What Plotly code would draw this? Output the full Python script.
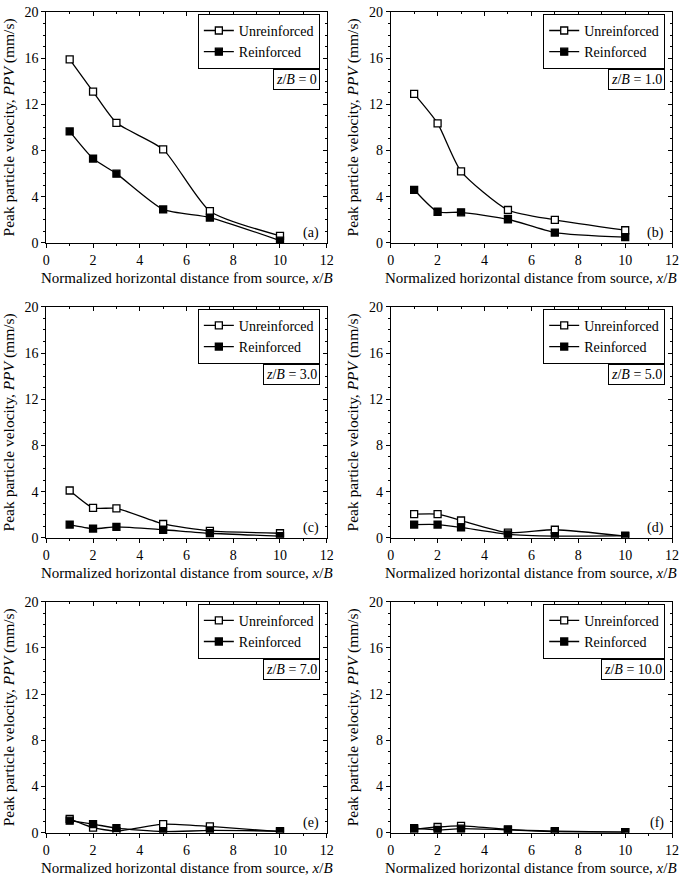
import plotly.graph_objects as go

x_vals = [1, 2, 3, 5, 7, 10]
unreinforced = {
    "a": [15.9, 13.1, 10.4, 8.1, 2.75, 0.62],
    "b": [12.9, 10.35, 6.2, 2.85, 2.0, 1.1],
    "c": [4.1, 2.6, 2.55, 1.2, 0.6, 0.4],
    "d": [2.05, 2.05, 1.5, 0.45, 0.7, 0.15],
    "e": [1.2, 0.45, 0.15, 0.75, 0.55, 0.1],
    "f": [0.3, 0.5, 0.6, 0.3, 0.15, 0.05],
}
reinforced = {
    "a": [9.65, 7.3, 6.0, 2.9, 2.2, 0.2],
    "b": [4.6, 2.7, 2.65, 2.05, 0.9, 0.5],
    "c": [1.15, 0.8, 0.95, 0.7, 0.4, 0.15],
    "d": [1.15, 1.15, 0.9, 0.3, 0.15, 0.2],
    "e": [1.05, 0.75, 0.4, 0.1, 0.2, 0.15],
    "f": [0.4, 0.25, 0.35, 0.25, 0.1, 0.05],
}
panels = ["a", "b", "c", "d", "e", "f"]
zb_labels = ["0", "1.0", "3.0", "5.0", "7.0", "10.0"]
x_ticks = [0, 2, 4, 6, 8, 10, 12]
y_ticks = [0, 4, 8, 12, 16, 20]
x_title = "Normalized horizontal distance from source, <i>x</i>/<i>B</i>"
y_title = "Peak particle velocity, <i>PPV</i> (mm/s)"

W, H = 685, 885
col_px = [(43, 328), (393, 679)]
row_px = [(5, 240), (305, 540), (605, 840)]

FONT = "Liberation Serif"
fig = go.Figure()
layout = dict(
    width=W, height=H, margin=dict(l=0, r=0, t=0, b=0),
    plot_bgcolor="white", paper_bgcolor="white",
    font=dict(family=FONT, size=14, color="black"),
    annotations=[],
)

for i, p in enumerate(panels):
    r, c = divmod(i, 2)
    x0, x1 = col_px[c]
    y0, y1 = row_px[r]
    xd = [x0 / W, x1 / W]
    yd = [1 - y1 / H, 1 - y0 / H]
    n = i * 2 + 1
    xa, ya = f"x{n}", f"y{n}"
    xa2, ya2 = f"x{n+1}", f"y{n+1}"
    lg = "legend" if i == 0 else f"legend{i+1}"
    common = dict(showgrid=False, zeroline=False, linecolor="black", linewidth=1,
                  tickcolor="black", tickwidth=1)
    layout[f"xaxis{n}"] = dict(domain=xd, anchor=ya, range=[0, 12], tickvals=x_ticks,
                               ticks="outside", ticklen=4,
                               minor=dict(dtick=1, tick0=0, ticks="outside", ticklen=2, tickcolor="black"),
                               tickfont=dict(size=14), **common)
    layout[f"yaxis{n}"] = dict(domain=yd, anchor=xa, range=[0, 20], tickvals=y_ticks,
                               ticks="outside", ticklen=4,
                               minor=dict(dtick=1, tick0=0, ticks="outside", ticklen=2, tickcolor="black"),
                               title=dict(text=y_title, font=dict(size=15.5), standoff=6),
                               tickfont=dict(size=14), **common)
    layout[f"xaxis{n+1}"] = dict(overlaying=xa, side="top", anchor=ya2, range=[0, 12], tickvals=x_ticks,
                                 ticks="inside", ticklen=4, showticklabels=False,
                                 minor=dict(dtick=1, tick0=0, ticks="inside", ticklen=2, tickcolor="black"),
                                 **common)
    layout[f"yaxis{n+1}"] = dict(overlaying=ya, side="right", anchor=xa2, range=[0, 20], tickvals=y_ticks,
                                 ticks="inside", ticklen=4, showticklabels=False,
                                 minor=dict(dtick=1, tick0=0, ticks="inside", ticklen=2, tickcolor="black"),
                                 **common)
    fig.add_trace(go.Scatter(x=x_vals, y=unreinforced[p], mode="lines+markers", name="Unreinforced",
                             line=dict(color="black", width=1.3, shape="spline", smoothing=0.6),
                             marker=dict(symbol="square", size=7, color="white",
                                         line=dict(color="black", width=1.3)),
                             xaxis=xa, yaxis=ya, legend=lg))
    fig.add_trace(go.Scatter(x=x_vals, y=reinforced[p], mode="lines+markers", name="Reinforced",
                             line=dict(color="black", width=1.3, shape="spline", smoothing=0.6),
                             marker=dict(symbol="square", size=7, color="black",
                                         line=dict(color="black", width=1.3)),
                             xaxis=xa, yaxis=ya, legend=lg))
    fig.add_trace(go.Scatter(x=x_vals, y=unreinforced[p], mode="lines", opacity=0, showlegend=False,
                             hoverinfo="skip", xaxis=xa2, yaxis=ya2))
    layout[lg] = dict(x=(x1 - 7) / W, xanchor="right", y=1 - (y0 + 2) / H, yanchor="top",
                      bordercolor="black", borderwidth=1, bgcolor="white",
                      font=dict(family=FONT, size=14), tracegroupgap=0,
                      itemwidth=30)
    layout["annotations"].append(dict(
        text=f"<i>z</i>/<i>B</i> = {zb_labels[i]}", xref="paper", yref="paper",
        x=(x1 - 7) / W, xanchor="right", y=1 - (y0 + 58) / H, yanchor="top",
        showarrow=False, bordercolor="black", borderwidth=1, borderpad=2, bgcolor="white",
        font=dict(family=FONT, size=14)))
    layout["annotations"].append(dict(
        text=f"({p})", xref="paper", yref="paper",
        x=(x1 - 6) / W, xanchor="right", y=1 - (y1 - 10) / H, yanchor="middle",
        showarrow=False, font=dict(family=FONT, size=14)))
    layout["annotations"].append(dict(
        text=x_title, xref="paper", yref="paper",
        x=(x0 + x1) / 2 / W, xanchor="center", y=1 - (y1 + 36) / H, yanchor="middle",
        showarrow=False, font=dict(family=FONT, size=15)))

fig.update_layout(**layout)
fig.write_html("out.html")
